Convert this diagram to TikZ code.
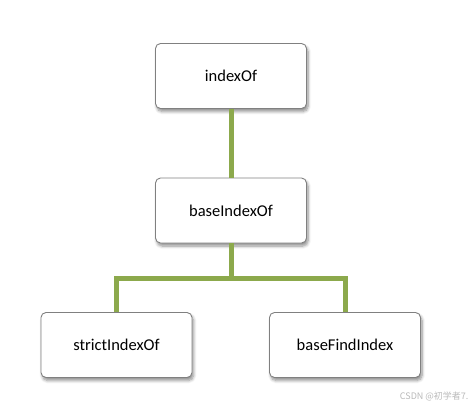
\documentclass[tikz,border=0pt]{standalone}
\usepackage{fontspec}
\setmainfont{Carlito}
\newfontfamily\cjk{Noto Sans CJK SC}
\usetikzlibrary{shadows.blur}
\definecolor{linkgreen}{RGB}{140,169,76}
\definecolor{boxborder}{RGB}{128,128,128}
\tikzset{
  fnbox/.style={draw=boxborder, line width=0.9pt, fill=white, rounded corners=5pt,
    minimum width=151pt, minimum height=65pt, inner sep=0pt,
    font=\fontsize{16.5}{19}\selectfont,
    blur shadow={shadow xshift=1.5pt, shadow yshift=-3pt, shadow blur steps=6, shadow blur radius=3pt, shadow opacity=45}},
  link/.style={draw=linkgreen, line width=5pt}
}
\begin{document}
\begin{tikzpicture}[x=1pt,y=-1pt]
\useasboundingbox (0,0) rectangle (476,409);
\node[fnbox] (idx) at (231,76) {indexOf};
\node[fnbox] (base) at (231,210.5) {baseIndexOf};
\node[fnbox] (strict) at (116.5,345) {strictIndexOf};
\node[fnbox] (find) at (345,345) {baseFindIndex};
\coordinate (junc) at (231,278);
\draw[link] (idx.south) -- (base.north);
\draw[link] (base.south) -- (junc);
\draw[link] (strict.north) |- (junc) -| (find.north);
\node[anchor=east, text=gray!55, font=\cjk\fontsize{9}{10}\selectfont] (wm) at (472,396) {CSDN @初学者7.};
\end{tikzpicture}
\end{document}
